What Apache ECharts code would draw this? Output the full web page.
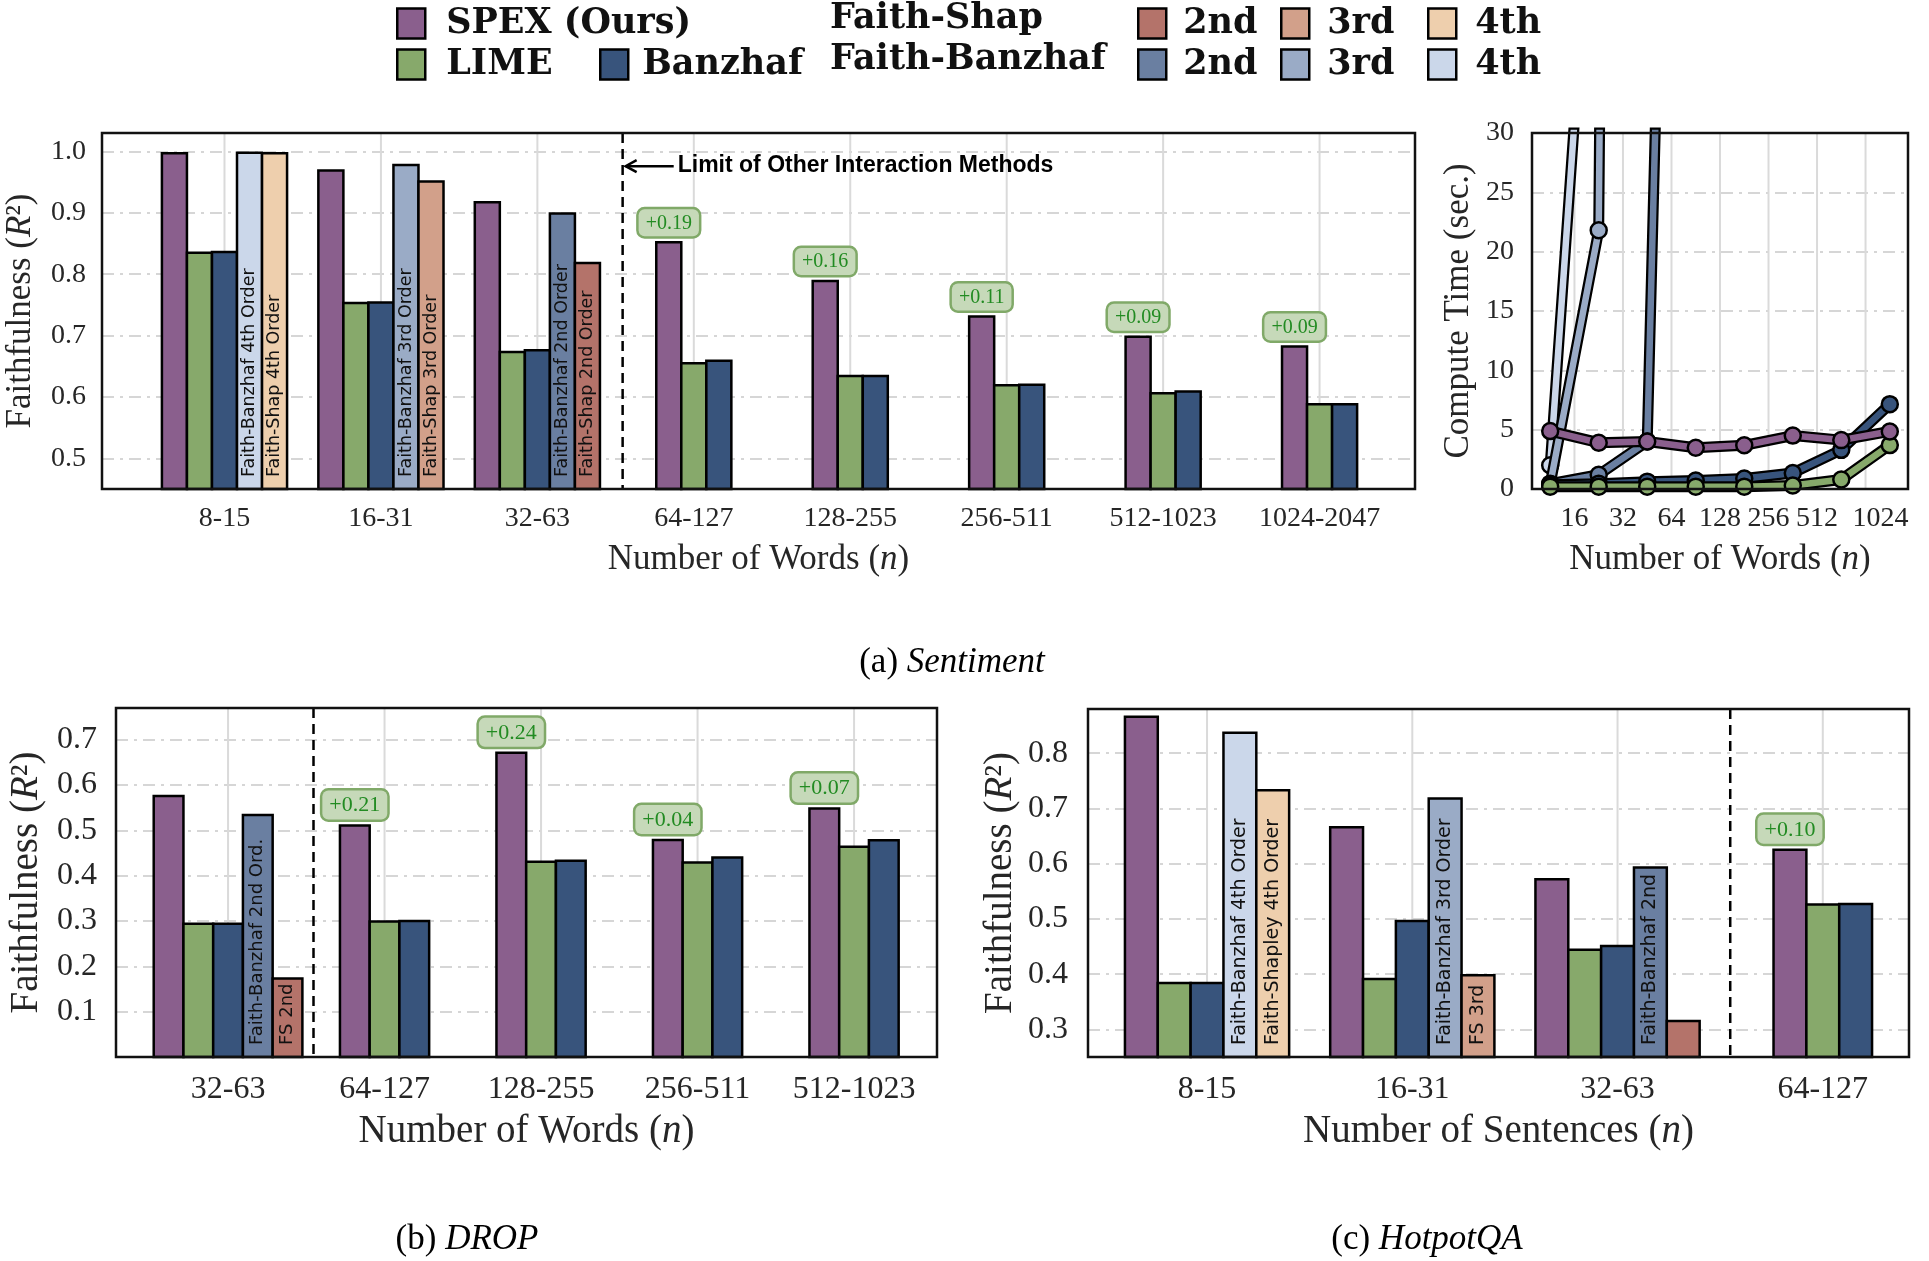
<!DOCTYPE html>
<html>
<head>
<meta charset="utf-8">
<script src="https://cdn.jsdelivr.net/npm/echarts@6/dist/echarts.min.js"></script>
<style>
html, body { margin: 0; background: #fff; }
#main { width: 1929px; height: 1261px; }
</style>
</head>
<body>
<div id="main"></div>
<script>
// ---- data: (a) Sentiment, faithfulness per word-count bin
const catsA = ['8-15', '16-31', '32-63', '64-127', '128-255', '256-511', '512-1023', '1024-2047'];
const spexA = [0.997, 0.969, 0.917, 0.852, 0.789, 0.731, 0.698, 0.682];
const limeA = [0.835, 0.753, 0.673, 0.655, 0.634, 0.619, 0.606, 0.588];
const banzA = [0.836, 0.754, 0.676, 0.659, 0.634, 0.620, 0.609, 0.588];
const fb4A = [0.998];
const fs4A = [0.997];
const fb3A = [null, 0.978];
const fs3A = [null, 0.951];
const fb2A = [null, null, 0.899];
const fs2A = [null, null, 0.818];
const gainA = [null, null, null, '+0.19', '+0.16', '+0.11', '+0.09', '+0.09'];
const yTicksA = [0.5, 0.6, 0.7, 0.8, 0.9, 1.0];

// (a) compute time, x is log2 of the number of words
const timeX = [3.5, 4.5, 5.5, 6.5, 7.5, 8.5, 9.5, 10.5];
const timeTicks = [4, 5, 6, 7, 8, 9, 10];
const timeSpex = [4.88, 3.9, 4.0, 3.48, 3.68, 4.5, 4.12, 4.85];
const timeLime = [0.2, 0.2, 0.2, 0.2, 0.2, 0.3, 0.8, 3.7];
const timeBanz = [0.35, 0.45, 0.62, 0.72, 0.88, 1.35, 3.3, 7.15];
const timeFb2 = [0.45, 1.2, 4.0, 163];
const timeFb3 = [0.4, 21.8, 500];
const timeFb4 = [2.0, 60];
const yTicksT = [0, 5, 10, 15, 20, 25, 30];

// (b) DROP
const catsB = ['32-63', '64-127', '128-255', '256-511', '512-1023'];
const spexB = [0.576, 0.511, 0.671, 0.479, 0.548];
const limeB = [0.294, 0.299, 0.431, 0.429, 0.464];
const banzB = [0.294, 0.300, 0.433, 0.440, 0.478];
const fb2B = [0.534];
const fs2B = [0.173];
const gainB = [null, '+0.21', '+0.24', '+0.04', '+0.07'];
const yTicksB = [0.1, 0.2, 0.3, 0.4, 0.5, 0.6, 0.7];

// (c) HotpotQA
const catsC = ['8-15', '16-31', '32-63', '64-127'];
const spexC = [0.866, 0.666, 0.572, 0.625];
const limeC = [0.384, 0.391, 0.444, 0.526];
const banzC = [0.384, 0.496, 0.451, 0.527];
const fb4C = [0.837];
const fs4C = [0.733];
const fb3C = [null, 0.718];
const fs3C = [null, 0.398];
const fb2C = [null, null, 0.593];
const fs2C = [null, null, 0.315];
const gainC = [null, null, null, '+0.10'];
const yTicksC = [0.3, 0.4, 0.5, 0.6, 0.7, 0.8];

// where the other interaction methods stop
const dividerA = 2.545, dividerB = 0.546, dividerC = 2.549;

// ---- styling
const SERIF = '"Liberation Serif", "Times New Roman", serif';
const SANS = '"DejaVu Sans", sans-serif';
const INK = '#262626';
const names = { spex: 'SPEX (Ours)', lime: 'LIME', banz: 'Banzhaf', fs2: 'FS 2nd', fs3: 'FS 3rd', fs4: 'FS 4th', fb2: 'FB 2nd', fb3: 'FB 3rd', fb4: 'FB 4th' };
const colors = { spex: '#8a5f8d', lime: '#87a96b', banz: '#38547c', fs2: '#b4736a', fs3: '#d2a08a', fs4: '#eecfad', fb2: '#6a7fa1', fb3: '#9aabc6', fb4: '#cbd7ea' };
const order = ['spex', 'lime', 'banz', 'fb2', 'fb3', 'fb4', 'fs2', 'fs3', 'fs4'];

function barPanel(gi, cats, vals, gains, texts, barW, textSize, gainSize) {
  const keys = order.filter(k => vals[k]);
  const items = {};
  keys.forEach(k => items[k] = []);
  cats.forEach((c, i) => {
    const here = keys.filter(k => vals[k][i] != null);
    here.forEach((k, slot) => {
      items[k].push([i + (slot - (here.length - 1) / 2) * barW, vals[k][i], i]);
    });
  });
  return keys.map(k => ({
    type: 'custom',
    name: names[k],
    xAxisIndex: gi,
    yAxisIndex: gi,
    z: 3,
    itemStyle: { color: colors[k], borderColor: '#000', borderWidth: 2.5 },
    data: items[k],
    renderItem(params, api) {
      const cs = params.coordSys;
      const x = api.value(0), v = api.value(1), ci = api.value(2);
      const l = api.coord([x - barW / 2, v])[0];
      const r = api.coord([x + barW / 2, v])[0];
      const top = api.coord([x, v])[1];
      const bottom = cs.y + cs.height;
      const children = [{
        type: 'rect',
        shape: { x: l, y: top, width: r - l, height: bottom - top },
        style: { fill: colors[k], stroke: '#000', lineWidth: 2.5 }
      }];
      if (texts[k]) {
        children.push({
          type: 'text', x: (l + r) / 2, y: bottom - 12, rotation: Math.PI / 2,
          style: { text: texts[k], fontFamily: SANS, fontSize: textSize, fill: '#111', align: 'left', verticalAlign: 'middle' }
        });
      }
      if (k === 'spex' && gains[ci]) {
        children.push({
          type: 'text', x: (l + r) / 2, y: top - 6,
          style: {
            text: gains[ci], fontFamily: SERIF, fontSize: gainSize, fill: '#228b22',
            align: 'center', verticalAlign: 'bottom',
            backgroundColor: '#c6d9b9', borderColor: '#80a968', borderWidth: 2.5, borderRadius: 6,
            padding: [4, 7, 3, 7]
          }
        });
      }
      return { type: 'group', children };
    }
  }));
}

// light vertical grid lines at the category ticks
function vGrid(gi, positions, yRef) {
  return {
    type: 'custom', xAxisIndex: gi, yAxisIndex: gi, z: 1, silent: true,
    data: positions.map(p => [p, yRef]),
    renderItem(params, api) {
      const cs = params.coordSys;
      const x = api.coord([api.value(0), api.value(1)])[0];
      return { type: 'line', shape: { x1: x, y1: cs.y, x2: x, y2: cs.y + cs.height }, style: { stroke: '#dadada', lineWidth: 2 } };
    }
  };
}

// solid black frame drawn over everything in the plot area
function frame(gi, xRef, yRef) {
  return {
    type: 'custom', xAxisIndex: gi, yAxisIndex: gi, z: 40, silent: true,
    data: [[xRef, yRef]],
    renderItem(params) {
      const cs = params.coordSys;
      return { type: 'rect', shape: { x: cs.x, y: cs.y, width: cs.width, height: cs.height }, style: { fill: null, stroke: '#111', lineWidth: 2.5 } };
    }
  };
}

function divider(gi, pos, yRef, note) {
  return {
    type: 'custom', xAxisIndex: gi, yAxisIndex: gi, z: 4, silent: true,
    data: [[pos, yRef]],
    renderItem(params, api) {
      const cs = params.coordSys;
      const x = api.coord([api.value(0), api.value(1)])[0];
      const children = [{
        type: 'line', shape: { x1: x, y1: cs.y, x2: x, y2: cs.y + cs.height },
        style: { stroke: '#000', lineWidth: 2.5, lineDash: [10, 6] }
      }];
      if (note) {
        const p = api.coord([note.x, note.y]);
        const tip = x + 3;
        children.push({ type: 'line', shape: { x1: tip, y1: p[1], x2: p[0] - 4, y2: p[1] }, style: { stroke: '#000', lineWidth: 2.5 } });
        children.push({ type: 'polyline', shape: { points: [[tip + 11, p[1] - 6], [tip, p[1]], [tip + 11, p[1] + 6]] }, style: { stroke: '#000', lineWidth: 2.5, fill: null } });
        children.push({
          type: 'text', x: p[0], y: p[1],
          style: { text: note.text, fontFamily: '"Liberation Sans", sans-serif', fontWeight: 'bold', fontSize: 23, fill: '#000', align: 'left', verticalAlign: 'middle' }
        });
      }
      return { type: 'group', children };
    }
  };
}

function richName(size) {
  return {
    r: { fontFamily: SERIF, fontSize: size, color: INK },
    i: { fontFamily: SERIF, fontSize: size, color: INK, fontStyle: 'italic' }
  };
}

function xAx(gi, min, max, ticks, fmt, fontSize, margin, name, nameSize, nameGap, rich) {
  return {
    type: 'value', gridIndex: gi, min, max,
    axisLine: { show: false }, axisTick: { show: false }, splitLine: { show: false },
    axisLabel: { customValues: ticks, formatter: fmt, fontFamily: SERIF, fontSize, color: INK, margin, rich: rich || {} },
    name, nameLocation: 'middle', nameGap,
    nameTextStyle: { fontFamily: SERIF, fontSize: nameSize, color: INK, rich: richName(nameSize) }
  };
}

function yAx(gi, min, max, interval, ticks, fmt, fontSize, margin, name, nameSize, nameGap) {
  return {
    type: 'value', gridIndex: gi, min, max, interval,
    axisLine: { show: false }, axisTick: { show: false },
    splitLine: { show: true, showMinLine: false, showMaxLine: false, lineStyle: { color: '#d6d6d6', width: 2, type: [12, 6, 3, 6] } },
    axisLabel: { customValues: ticks, formatter: fmt, fontFamily: SERIF, fontSize, color: INK, margin },
    name, nameLocation: 'middle', nameGap,
    nameTextStyle: { fontFamily: SERIF, fontSize: nameSize, color: INK, rich: richName(nameSize) }
  };
}

const fmt1 = v => v.toFixed(1);
const wordsName = '{r|Number of Words (}{i|n}{r|)}';
const faithName = '{r|Faithfulness (}{i|R}{r|²)}';

const series = [];
series.push(vGrid(0, catsA.map((c, i) => i), 0.5));
series.push(vGrid(1, timeTicks, 0));
series.push(vGrid(2, catsB.map((c, i) => i), 0.1));
series.push(vGrid(3, catsC.map((c, i) => i), 0.3));

series.push(...barPanel(0, catsA,
  { spex: spexA, lime: limeA, banz: banzA, fb2: fb2A, fb3: fb3A, fb4: fb4A, fs2: fs2A, fs3: fs3A, fs4: fs4A },
  gainA,
  { fb4: 'Faith-Banzhaf 4th Order', fs4: 'Faith-Shap 4th Order', fb3: 'Faith-Banzhaf 3rd Order', fs3: 'Faith-Shap 3rd Order', fb2: 'Faith-Banzhaf 2nd Order', fs2: 'Faith-Shap 2nd Order' },
  0.16, 17.5, 20));
series.push(...barPanel(2, catsB,
  { spex: spexB, lime: limeB, banz: banzB, fb2: fb2B, fs2: fs2B },
  gainB,
  { fb2: 'Faith-Banzhaf 2nd Ord.', fs2: 'FS 2nd' },
  0.19, 18, 22));
series.push(...barPanel(3, catsC,
  { spex: spexC, lime: limeC, banz: banzC, fb2: fb2C, fb3: fb3C, fb4: fb4C, fs2: fs2C, fs3: fs3C, fs4: fs4C },
  gainC,
  { fb4: 'Faith-Banzhaf 4th Order', fs4: 'Faith-Shapley 4th Order', fb3: 'Faith-Banzhaf 3rd Order', fs3: 'FS 3rd', fb2: 'Faith-Banzhaf 2nd' },
  0.16, 19, 22));

series.push(divider(0, dividerA, 0.5, { x: 2.897, y: 0.976, text: 'Limit of Other Interaction Methods' }));
series.push(divider(2, dividerB, 0.1));
series.push(divider(3, dividerC, 0.3));

// compute time lines: black outline underneath, coloured line with markers on top
[['fb4', timeFb4], ['fb3', timeFb3], ['fb2', timeFb2], ['banz', timeBanz], ['lime', timeLime], ['spex', timeSpex]].forEach(([k, vals], j) => {
  const data = vals.map((v, i) => [timeX[i], v]);
  series.push({
    type: 'line', xAxisIndex: 1, yAxisIndex: 1, data, symbol: 'none', silent: true, clip: true,
    z: 10 + 2 * j, lineStyle: { color: '#000', width: 11, cap: 'round', join: 'round' }
  });
  series.push({
    type: 'line', name: names[k], xAxisIndex: 1, yAxisIndex: 1, data, clip: true,
    symbol: 'circle', symbolSize: 16, z: 11 + 2 * j,
    lineStyle: { color: colors[k], width: 6.5, cap: 'round', join: 'round' },
    itemStyle: { color: colors[k], borderColor: '#000', borderWidth: 2.5 },
    emphasis: { disabled: true }
  });
});

series.push(frame(0, 0, 0.5), frame(1, 4, 0), frame(2, 0, 0.1), frame(3, 0, 0.3));

// legend: one component per entry so each sits where the figure puts it
const legendText = { spex: 'SPEX (Ours)', lime: 'LIME', banz: 'Banzhaf', fs2: '2nd', fs3: '3rd', fs4: '4th', fb2: '2nd', fb3: '3rd', fb4: '4th' };
const legendSpec = [
  ['spex', 391, 0, 16], ['lime', 391, 1, 16], ['banz', 594, 1, 9],
  ['fs2', 1132, 0, 12], ['fs3', 1275, 0, 13], ['fs4', 1422, 0, 14],
  ['fb2', 1132, 1, 12], ['fb3', 1275, 1, 13], ['fb4', 1422, 1, 14]
];
const rowTop = [1, 42];
const LEG_FONT = 35;
const legend = legendSpec.map(([k, left, row, pad]) => ({
  left, top: rowTop[row], orient: 'horizontal', selectedMode: false,
  data: [{ name: names[k], icon: 'rect' }],
  itemWidth: 28, itemHeight: 30,
  itemStyle: { color: colors[k], borderColor: '#000', borderWidth: 2.5 },
  formatter: () => '{t|' + legendText[k] + '}',
  textStyle: { rich: { t: { fontFamily: '"DejaVu Serif", serif', fontWeight: 'bold', fontSize: LEG_FONT, color: '#111', padding: [0, 0, 0, pad] } } }
}));

const capRich = {
  r: { fontFamily: SERIF, fontSize: 35, color: '#000' },
  i: { fontFamily: SERIF, fontSize: 35, color: '#000', fontStyle: 'italic' }
};

const option = {
  animation: false,
  backgroundColor: '#fff',
  legend,
  grid: [
    { show: false, outerBoundsMode: 'none', containLabel: false, left: 102, top: 133, width: 1313, height: 356 },
    { show: false, outerBoundsMode: 'none', containLabel: false, left: 1532, top: 133, width: 376, height: 356 },
    { show: false, outerBoundsMode: 'none', containLabel: false, left: 116, top: 708, width: 821, height: 349 },
    { show: false, outerBoundsMode: 'none', containLabel: false, left: 1088, top: 709, width: 821, height: 348 }
  ],
  xAxis: [
    xAx(0, -0.783, 7.61, catsA.map((c, i) => i), v => catsA[Math.round(v)], 28, 16, wordsName, 35, 53),
    xAx(1, 3.125, 10.875, timeTicks, v => v === 10 ? '{o|1024}' : String(Math.pow(2, v)), 28, 16, wordsName, 35, 53,
      { o: { fontFamily: SERIF, fontSize: 28, color: INK, padding: [0, 0, 0, 30] } }),
    xAx(2, -0.716, 4.53, catsB.map((c, i) => i), v => catsB[Math.round(v)], 32, 17, wordsName, 39, 55),
    xAx(3, -0.58, 3.42, catsC.map((c, i) => i), v => catsC[Math.round(v)], 32, 17, '{r|Number of Sentences (}{i|n}{r|)}', 39, 55)
  ],
  yAxis: [
    yAx(0, 0.45, 1.03, undefined, yTicksA, fmt1, 28, 16, faithName, 35, 64),
    yAx(1, 0, 30, 5, yTicksT, v => String(v), 28, 18, '{r|Compute Time (sec.)}', 35, 56),
    yAx(2, 0, 0.77, 0.1, yTicksB, fmt1, 32, 19, faithName, 39, 70),
    yAx(3, 0.25, 0.88, undefined, yTicksC, fmt1, 32, 20, faithName, 39, 68)
  ],
  graphic: [
    { type: 'text', x: 830, y: 19, style: { text: 'Faith-Shap', fontFamily: '"DejaVu Serif", serif', fontWeight: 'bold', fontSize: LEG_FONT, fill: '#111', align: 'left', verticalAlign: 'middle' } },
    { type: 'text', x: 830, y: 60, style: { text: 'Faith-Banzhaf', fontFamily: '"DejaVu Serif", serif', fontWeight: 'bold', fontSize: LEG_FONT, fill: '#111', align: 'left', verticalAlign: 'middle' } },
    { type: 'text', x: 952, y: 663, style: { text: '{r|(a) }{i|Sentiment}', rich: capRich, align: 'center', verticalAlign: 'middle' } },
    { type: 'text', x: 467, y: 1240, style: { text: '{r|(b) }{i|DROP}', rich: capRich, align: 'center', verticalAlign: 'middle' } },
    { type: 'text', x: 1427, y: 1240, style: { text: '{r|(c) }{i|HotpotQA}', rich: capRich, align: 'center', verticalAlign: 'middle' } }
  ],
  series
};

const chart = echarts.init(document.getElementById('main'));
chart.setOption(option);
</script>
</body>
</html>
